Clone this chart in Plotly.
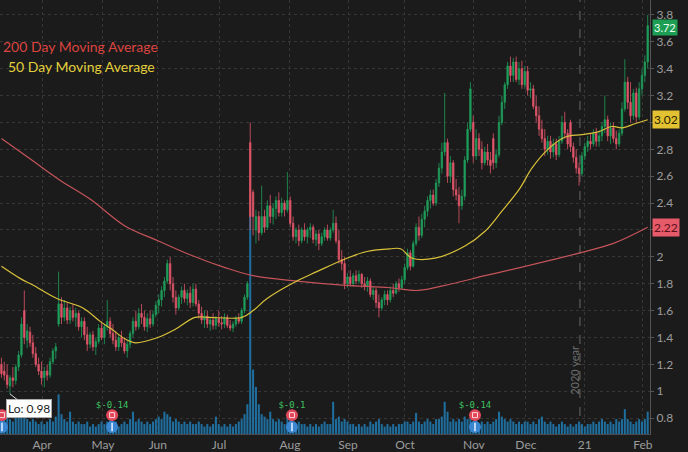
import plotly.graph_objects as go

# ---------------- data ----------------
# trading days from Mar 11 2020 to Feb 2 2021 (index 0..226)
opens = [
    1.2,1.15,1.12,1.04,1.1,1.08,1.18,1.27,1.6,1.38,1.44,1.36,1.28,1.2,1.15,
    1.1,1.15,1.12,1.22,1.3,1.5,1.65,1.55,1.62,1.53,1.6,1.55,1.58,1.48,1.52,1.42,1.35,1.42,1.33,1.37,1.47,
    1.4,1.48,1.52,1.43,1.38,1.33,1.4,1.36,1.3,1.35,1.43,1.52,1.48,1.58,1.55,1.48,1.54,1.5,1.57,1.64,
    1.68,1.75,1.82,1.95,1.8,1.7,1.62,1.7,1.75,1.69,1.73,1.66,1.76,1.65,1.58,1.53,1.56,1.5,1.53,1.49,1.54,1.51,
    1.5,1.55,1.49,1.47,1.5,1.54,1.52,1.6,1.7,2.85,2.48,2.2,2.3,2.18,2.3,2.22,2.38,2.3,2.36,2.42,2.33,2.4,
    2.35,2.42,2.25,2.15,2.2,2.12,2.2,2.15,2.2,2.22,2.13,2.17,2.1,2.15,2.2,2.14,2.2,2.25,2.12,1.98,1.95,
    1.8,1.85,1.8,1.86,1.82,1.87,1.8,1.78,1.82,1.72,1.75,1.66,1.62,1.68,1.72,1.68,1.75,1.73,1.8,1.77,1.83,
    1.92,2.03,1.93,2.1,2.22,2.16,2.28,2.34,2.42,2.46,2.4,2.55,2.66,2.78,2.85,2.6,2.7,2.5,2.46,2.38,2.45,2.72,
    2.95,3.0,2.75,2.88,2.8,2.7,2.78,2.72,2.88,2.7,2.76,3.0,3.15,3.28,3.42,3.35,3.45,3.32,3.4,3.28,
    3.38,3.24,3.25,3.12,3.05,2.95,2.88,2.8,2.86,2.78,2.84,2.76,2.86,3.0,2.92,3.0,2.82,2.74,2.66,2.62,2.75,2.82,
    2.86,2.84,2.92,2.86,2.9,2.97,3.02,2.9,2.96,2.88,2.84,2.92,3.1,3.3,3.15,3.05,3.22,3.04,3.25,
    3.35,3.45]
highs = [
    1.25,1.22,1.2,1.12,1.18,1.2,1.3,1.55,1.75,1.5,1.48,1.42,1.33,1.25,1.22,
    1.18,1.2,1.25,1.32,1.36,1.89,1.7,1.68,1.66,1.63,1.65,1.62,1.6,1.55,1.55,1.48,1.44,1.45,1.4,1.5,1.52,
    1.5,1.68,1.55,1.5,1.45,1.42,1.45,1.4,1.38,1.45,1.55,1.6,1.62,1.65,1.6,1.58,1.6,1.6,1.67,1.72,
    1.78,1.85,1.98,2.0,1.85,1.75,1.72,1.78,1.8,1.76,1.78,1.8,1.8,1.68,1.63,1.6,1.6,1.55,1.58,1.56,1.6,1.56,
    1.58,1.57,1.53,1.52,1.56,1.58,1.62,1.72,1.82,3.0,2.5,2.35,2.34,2.53,2.35,2.42,2.46,2.4,2.45,2.48,2.44,2.42,
    2.63,2.45,2.3,2.22,2.24,2.22,2.25,2.22,2.25,2.24,2.2,2.2,2.18,2.22,2.24,2.22,2.35,2.3,2.2,2.05,2.0,
    1.88,1.9,1.88,1.9,1.9,1.88,1.85,1.85,1.84,1.78,1.77,1.72,1.7,1.75,1.75,1.78,1.8,1.82,1.84,1.86,1.95,
    2.06,2.05,2.12,2.25,2.3,2.32,2.38,2.45,2.5,2.5,2.58,2.7,2.85,3.22,2.88,2.75,2.72,2.58,2.52,2.5,2.75,3.0,
    3.3,3.05,2.95,2.92,2.86,2.82,2.84,2.78,2.92,2.8,3.05,3.2,3.3,3.45,3.49,3.48,3.49,3.45,3.46,3.42,
    3.42,3.3,3.28,3.2,3.12,3.02,2.95,2.9,2.9,2.88,2.88,2.9,3.05,3.08,2.95,3.02,2.85,2.8,2.7,2.78,2.85,2.9,
    2.92,2.95,2.96,2.94,3.0,3.2,3.05,3.0,3.0,2.94,2.95,3.15,3.47,3.34,3.3,3.25,3.26,3.3,3.4,
    3.5,3.8]
lows = [
    1.1,1.08,1.02,0.98,1.03,1.05,1.15,1.25,1.35,1.32,1.33,1.25,1.18,1.12,1.05,
    1.03,1.08,1.1,1.2,1.24,1.48,1.5,1.52,1.5,1.5,1.52,1.48,1.45,1.4,1.38,1.3,1.32,1.3,1.27,1.35,1.38,
    1.35,1.45,1.4,1.35,1.3,1.3,1.33,1.28,1.25,1.32,1.4,1.45,1.46,1.5,1.45,1.44,1.47,1.48,1.55,1.58,
    1.63,1.7,1.8,1.75,1.66,1.57,1.6,1.65,1.66,1.64,1.62,1.63,1.63,1.54,1.5,1.47,1.47,1.45,1.46,1.46,1.48,1.46,
    1.47,1.47,1.45,1.44,1.48,1.5,1.5,1.58,1.68,2.2,2.16,2.1,2.12,2.16,2.18,2.2,2.25,2.24,2.28,2.3,2.3,2.3,
    2.33,2.22,2.12,2.1,2.08,2.1,2.12,2.1,2.14,2.1,2.08,2.05,2.08,2.12,2.12,2.12,2.18,2.1,1.95,1.9,1.76,
    1.77,1.78,1.78,1.8,1.8,1.77,1.75,1.74,1.7,1.68,1.62,1.55,1.6,1.64,1.64,1.66,1.7,1.72,1.74,1.76,1.8,
    1.9,1.9,1.92,2.08,2.12,2.14,2.22,2.3,2.36,2.38,2.38,2.52,2.62,2.75,2.55,2.55,2.45,2.42,2.25,2.35,2.42,2.7,
    2.93,2.7,2.72,2.75,2.65,2.68,2.68,2.62,2.65,2.66,2.74,2.98,3.1,3.25,3.3,3.3,3.3,3.28,3.25,3.25,
    3.2,3.18,3.1,3.0,2.9,2.85,2.75,2.76,2.73,2.74,2.72,2.74,2.84,2.88,2.8,2.78,2.7,2.62,2.53,2.6,2.72,2.78,
    2.8,2.82,2.82,2.82,2.86,2.92,2.86,2.84,2.85,2.8,2.82,2.9,3.08,3.1,3.0,3.02,3.0,3.02,3.2,
    3.3,3.4]
closes = [
    1.13,1.12,1.05,1.1,1.08,1.18,1.27,1.5,1.4,1.45,1.36,1.28,1.2,1.15,1.1,
    1.15,1.12,1.22,1.3,1.33,1.65,1.55,1.62,1.53,1.6,1.55,1.58,1.48,1.52,1.42,1.35,1.42,1.33,1.37,1.47,1.4,
    1.48,1.52,1.43,1.38,1.33,1.4,1.36,1.3,1.35,1.43,1.52,1.48,1.58,1.55,1.48,1.54,1.5,1.57,1.64,1.68,
    1.75,1.82,1.95,1.8,1.7,1.62,1.7,1.75,1.69,1.73,1.66,1.76,1.65,1.58,1.53,1.56,1.5,1.53,1.49,1.54,1.51,1.5,
    1.55,1.49,1.47,1.5,1.54,1.52,1.6,1.7,1.8,2.3,2.3,2.3,2.18,2.3,2.22,2.38,2.3,2.36,2.42,2.33,2.4,2.35,
    2.42,2.25,2.15,2.2,2.12,2.2,2.15,2.2,2.22,2.13,2.17,2.1,2.15,2.2,2.14,2.2,2.25,2.12,1.98,1.95,1.8,
    1.85,1.8,1.86,1.82,1.87,1.8,1.78,1.82,1.72,1.75,1.66,1.62,1.68,1.72,1.68,1.75,1.73,1.8,1.77,1.83,1.92,
    2.03,1.93,2.1,2.22,2.16,2.28,2.34,2.42,2.46,2.4,2.55,2.66,2.78,2.85,2.6,2.7,2.5,2.46,2.38,2.45,2.72,2.95,
    3.25,2.75,2.88,2.8,2.7,2.78,2.72,2.68,2.7,2.76,3.0,3.15,3.28,3.42,3.35,3.45,3.32,3.4,3.28,3.38,
    3.24,3.25,3.12,3.05,2.95,2.88,2.8,2.86,2.78,2.84,2.76,2.86,3.0,2.92,2.84,2.82,2.74,2.66,2.62,2.75,2.82,2.86,
    2.84,2.92,2.86,2.9,2.97,3.02,2.9,2.96,2.88,2.84,2.92,3.1,3.3,3.15,3.05,3.22,3.04,3.25,3.35,
    3.45,3.72]
volume_m = [
    0.9,0.7,0.8,0.6,0.5,0.7,0.8,1.1,0.9,0.6,0.5,0.6,0.5,0.4,0.5,
    0.4,0.5,0.6,0.5,0.7,1.6,0.8,0.6,0.5,0.9,0.5,0.4,0.5,0.4,0.4,0.5,0.3,0.4,0.3,0.4,0.5,
    0.4,0.5,0.6,0.4,0.5,0.3,0.4,0.5,0.4,0.6,0.9,0.5,0.6,0.5,0.4,0.5,0.4,0.5,0.6,0.7,
    0.6,0.9,0.8,0.7,0.5,0.6,0.5,0.4,0.5,0.4,0.5,0.4,0.4,0.5,0.4,0.3,0.4,0.3,0.4,0.7,0.4,0.3,
    0.4,0.3,0.4,0.3,0.4,0.5,0.6,0.8,1.2,8.8,2.6,1.9,1.2,0.8,0.7,0.6,0.9,0.6,0.5,0.6,0.5,0.4,
    0.7,0.6,0.5,0.4,0.5,0.4,0.4,0.3,0.4,0.3,0.4,0.3,0.4,0.5,0.4,0.4,1.3,0.6,0.7,0.5,0.6,
    0.5,0.4,0.4,0.3,0.4,0.3,0.4,0.3,0.5,0.4,0.5,0.6,0.4,0.3,0.4,0.3,0.4,0.3,0.4,0.4,0.5,
    0.5,0.4,0.5,0.85,0.5,0.4,0.5,0.6,0.5,0.4,0.6,0.6,0.7,1.3,0.9,0.5,0.6,0.5,0.6,0.5,0.7,0.6,
    0.6,0.5,0.6,0.4,0.5,0.4,0.5,0.4,0.5,0.6,0.9,0.7,0.6,0.5,0.6,0.5,0.4,0.5,0.4,0.5,
    0.5,0.4,0.5,0.4,0.6,0.7,0.5,0.4,0.5,0.4,0.3,0.4,0.5,0.4,0.3,0.4,0.3,0.4,0.5,0.4,0.3,0.4,
    0.4,0.5,0.4,0.5,0.6,0.5,0.4,0.5,0.4,0.6,0.5,0.6,1.0,0.6,0.5,0.4,0.5,0.6,0.5,
    0.6,0.9]

ma50_idx = [0, 6.5, 11, 19.4, 28.5, 34.5, 38, 43.2, 46.7, 54.7, 60.7, 67.7, 72.2, 84.1, 88, 92.9,
            103.3, 110.3, 120.8, 127.8, 135.9, 139.6, 143.6, 151.6, 162.1, 169.1, 175, 181.3, 185.5,
            191.1, 197, 203, 208.6, 213.5, 217, 221.5, 226]
ma50_val = [1.93, 1.84, 1.79, 1.69, 1.62, 1.52, 1.47, 1.39, 1.36, 1.4, 1.46, 1.55, 1.55, 1.55, 1.6, 1.69,
            1.82, 1.89, 1.99, 2.04, 2.06, 2.06, 1.99, 1.99, 2.08, 2.19, 2.34, 2.51, 2.66,
            2.8, 2.89, 2.91, 2.93, 2.97, 2.96, 2.99, 3.02]
ma200_idx = [0, 10, 20.5, 31, 43.2, 54.7, 66.6, 78.2, 88, 103.3, 119.4, 135.9, 145.7, 157.5, 169.1,
             181.3, 202.3, 214, 226]
ma200_val = [2.88, 2.73, 2.57, 2.43, 2.23, 2.12, 2.01, 1.92, 1.86, 1.82, 1.79, 1.77, 1.75, 1.8, 1.86,
             1.92, 2.03, 2.1, 2.22]

month_ticks = [14.2, 35.5, 54.7, 76.1, 100.9, 121.2, 141.1, 165.2, 183.4, 204.0, 224.3]
month_labels = ["Apr", "May", "Jun", "Jul", "Aug", "Sep", "Oct", "Nov", "Dec", "21", "Feb"]
price_ticks = [0.8, 1, 1.2, 1.4, 1.6, 1.8, 2, 2.2, 2.4, 2.6, 2.8, 3, 3.2, 3.4, 3.6, 3.8]
# "3" and "2.2" sit under the value badges in the reference
price_labels = ["0.8", "1", "1.2", "1.4", "1.6", "1.8", "2", "", "2.4", "2.6", "2.8", "", "3.2", "3.4", "3.6", "3.8"]

event_idx = [0.2, 38.7, 101.6, 165.6]
event_text = ["", "$-0.14", "$-0.1", "$-0.14"]   # first one is hidden behind the Lo box
year_idx = 202.3
low_idx, low_val = 3, 0.98

BG = "#1b1b1b"
GRID = "#363636"
TXT = "#9c9c9c"
UP = "#1f9d5a"
DN = "#e0566a"

x = list(range(len(closes)))
fig = go.Figure()

fig.add_trace(go.Bar(x=x, y=volume_m, marker_color="#1f6e9e", marker_line_width=0,
                     width=0.72, yaxis="y", hoverinfo="skip"))
fig.add_trace(go.Candlestick(x=x, open=opens, high=highs, low=lows, close=closes,
                             increasing=dict(line=dict(color=UP, width=0.8), fillcolor=UP),
                             decreasing=dict(line=dict(color=DN, width=0.8), fillcolor=DN),
                             whiskerwidth=0, yaxis="y2"))
fig.add_trace(go.Scatter(x=ma200_idx, y=ma200_val, mode="lines", yaxis="y2",
                         line=dict(color="#c4545a", width=1.2, shape="spline")))
fig.add_trace(go.Scatter(x=ma50_idx, y=ma50_val, mode="lines", yaxis="y2",
                         line=dict(color="#d9c13a", width=1.2, shape="spline")))

# event markers (pixel-like helper axis y3: 0..437 from bottom)
fig.add_trace(go.Scatter(x=event_idx, y=[19] * 4, mode="markers", yaxis="y3",
                         marker=dict(size=12, color="#e0485a", line=dict(width=0))))
fig.add_trace(go.Scatter(x=event_idx, y=[19] * 4, mode="markers", yaxis="y3",
                         marker=dict(size=5, symbol="square-open", color="#ffd8dc", line=dict(width=1, color="#ffd8dc"))))
fig.add_trace(go.Scatter(x=event_idx, y=[7] * 4, mode="markers", yaxis="y3",
                         marker=dict(size=12, color="#3b86d0", line=dict(width=0))))
fig.add_trace(go.Scatter(x=event_idx, y=[7] * 4, mode="markers", yaxis="y3",
                         marker=dict(size=6, symbol="line-ns", line=dict(width=1.5, color="#e6f1ff"))))
fig.add_trace(go.Scatter(x=event_idx, y=[28] * 4, mode="text", yaxis="y3", text=event_text,
                         textfont=dict(family="DejaVu Sans Mono", size=9, color="#3fc060")))

fig.update_layout(
    width=688, height=452,
    margin=dict(l=0, r=38, t=0, b=15),
    paper_bgcolor=BG, plot_bgcolor=BG,
    showlegend=False,
    font=dict(family="Lato", color=TXT, size=12),
    bargap=0.3,
    xaxis=dict(range=[-0.5, 226.8], tickvals=month_ticks, ticktext=month_labels,
               showgrid=True, gridcolor=GRID, griddash="dot", gridwidth=1,
               showline=True, linecolor="#4a4a4a", ticks="", zeroline=False,
               tickfont=dict(color=TXT, size=12, family="Lato"),
               rangeslider=dict(visible=False)),
    yaxis=dict(range=[0, 17.5], visible=False, showgrid=False, fixedrange=True),
    yaxis2=dict(overlaying="y", side="right", range=[0.682, 3.911], anchor="x",
                tickvals=price_ticks, ticktext=price_labels,
                showgrid=True, gridcolor=GRID, griddash="dot", gridwidth=1,
                showline=True, linecolor="#555555", ticks="outside", ticklen=3,
                tickcolor="#555555", zeroline=False,
                tickfont=dict(color=TXT, size=12, family="Lato")),
    yaxis3=dict(overlaying="y", range=[0, 437], visible=False, showgrid=False),
)

fig.add_shape(type="line", xref="x", yref="paper", x0=year_idx, x1=year_idx, y0=0, y1=1,
              line=dict(color="#6a6a6a", width=1, dash="dash"), layer="below")

ann = [
    dict(xref="paper", yref="paper", x=0, y=1 - 47 / 437, xanchor="left", yanchor="middle", xshift=1,
         text="200 Day Moving Average", showarrow=False,
         font=dict(family="Lato", size=14, color="#dc4440")),
    dict(xref="paper", yref="paper", x=0, y=1 - 67 / 437, xanchor="left", yanchor="middle", xshift=6,
         text="50 Day Moving Average", showarrow=False,
         font=dict(family="Lato", size=14, color="#e3cf3d")),
    dict(xref="paper", yref="y2", x=1, y=3.72, xanchor="left", yanchor="middle", xshift=2, yshift=-2,
         text="3.72", showarrow=False,
         bgcolor="#1e9e54", borderpad=1, font=dict(family="Lato", size=11, color="#eafff0")),
    dict(xref="paper", yref="y2", x=1, y=3.02, xanchor="left", xshift=2, text="3.02", showarrow=False,
         bgcolor="#e2c232", borderpad=1, font=dict(family="Lato", size=12, color="#2a2200")),
    dict(xref="paper", yref="y2", x=1, y=2.22, xanchor="left", xshift=2, text="2.22", showarrow=False,
         bgcolor="#e65a6a", borderpad=1, font=dict(family="Lato", size=12, color="#5a1018")),
    dict(xref="x", yref="paper", x=200.6, y=1 - 400 / 437, text="2020 year", textangle=-90,
         showarrow=False, font=dict(family="Lato", size=11, color="#6d6d6d")),
    dict(xref="x", yref="y2", x=low_idx, y=low_val, text="Lo: 0.98", showarrow=True, arrowhead=0,
         arrowwidth=1, arrowcolor="#dddddd", ax=19, ay=15, bgcolor="#ffffff", bordercolor="#aaaaaa",
         borderwidth=1, borderpad=1, font=dict(family="Lato", size=12, color="#222222")),
]
fig.update_layout(annotations=ann)

fig.write_html("out.html")
